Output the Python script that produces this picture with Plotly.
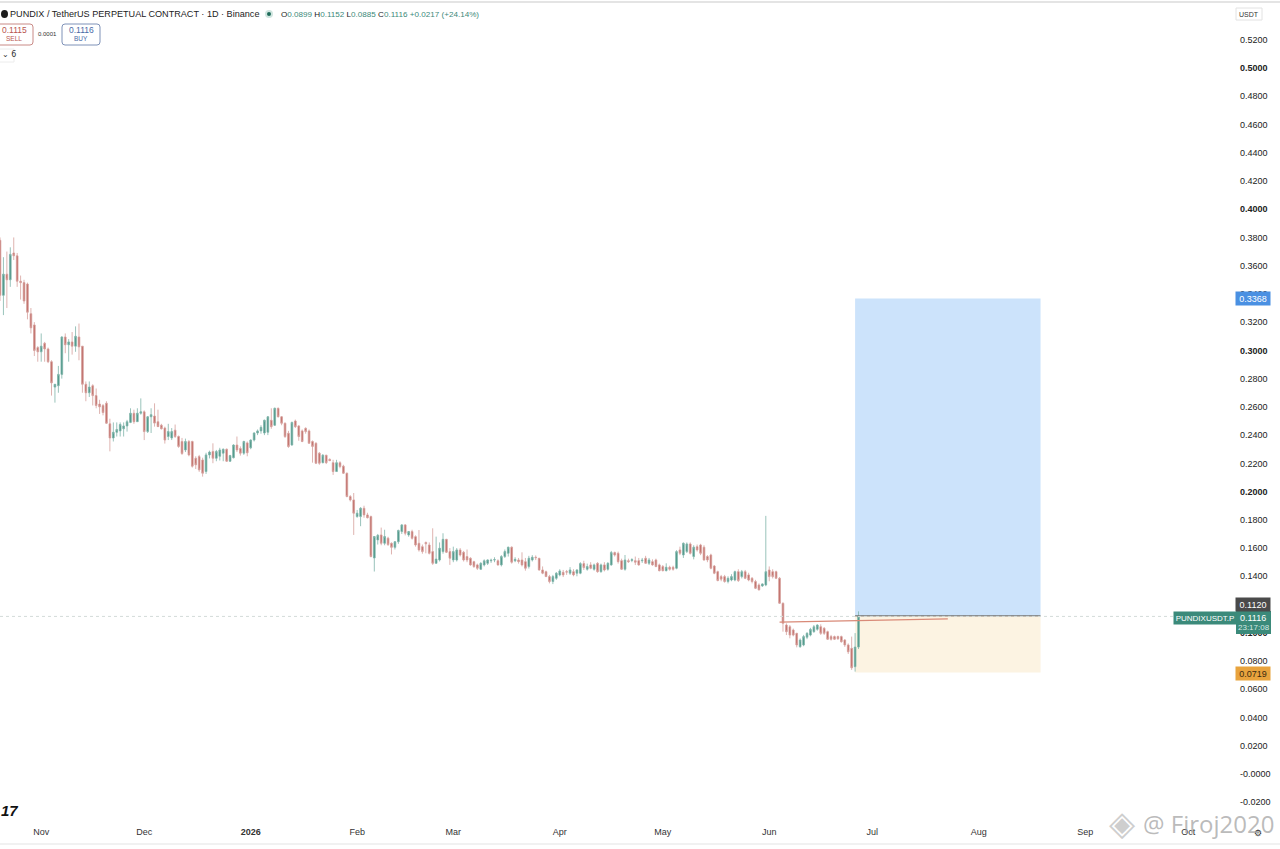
import pandas as pd
import plotly.graph_objects as go

# daily candles, first one is 2025-10-20
opens = [
    .378, .339, .354, .350, .369, .367, .349, .348, .347, .326,
    .318, .302, .299, .305, .301, .292, .274, .275, .283, .3095,
    .304, .306, .303, .3095, .303, .276, .270, .275, .268, .262,
    .261, .2626, .248, .238, .242, .243, .2445, .2465, .249, .2555,
    .2495, .2555, .2565, .2425, .2530, .2535, .2495, .2470, .2450, .2390,
    .2380, .2435, .2390, .2355, .2295, .2355, .2355, .2236, .2248, .2224,
    .2142, .2260, .2284, .2236, .2250, .2272, .2300, .2215, .2240, .2330,
    .2305, .2272, .2345, .2310, .2365, .2415, .2430, .2415, .2420, .2505,
    .2470, .2590, .2530, .2484, .2413, .2330, .2500, .2465, .2430, .2448,
    .2430, .2355, .2342, .2272, .2205, .2258, .2228, .2205, .2142, .2205,
    .2180, .2130, .1965, .1941, .1823, .1823, .1882, .1835, .1823, .1530,
    .1658, .1693, .1634, .1670, .1634, .1605, .1645, .1717, .1764, .1693,
    .1717, .1681, .1634, .1610, .1640, .1622, .1575, .1492, .1516, .1575,
    .1662, .1575, .1516, .1516, .1587, .1570, .1540, .1528, .1504, .1481,
    .1450, .1481, .1492, .1510, .1516, .1510, .1481, .1540, .1563, .1606,
    .1510, .1516, .1516, .1504, .1469, .1516, .1535, .1528, .1445, .1433,
    .1398, .1363, .1386, .1410, .1428, .1433, .1422, .1433, .1422, .1422,
    .1490, .1450, .1481, .1450, .1492, .1433, .1481, .1450, .1481, .1568,
    .1563, .1511, .1450, .1511, .1512, .1511, .1511, .1510, .1528, .1492,
    .1504, .1516, .1481, .1469, .1440, .1464, .1464, .1457, .1587, .1551,
    .1575, .1629, .1540, .1610, .1622, .1606, .1540, .1551, .1473, .1433,
    .1398, .1398, .1363, .1374, .1374, .1433, .1398, .1433, .1410, .1386,
    .1363, .1339, .1332, .1339, .1445, .1433, .1433, .1386, .1209, .1055,
    .1043, .1020, .0996, .0901, .0914, .0968, .0984, .1008, .1025, .1043,
    .1032, .1008, .0973, .0973, .0973, .0973, .0949, .0914, .0890, .0760,
    .0899,
]
highs = [
    .380, .366, .370, .373, .380, .369, .353, .350, .348, .330,
    .320, .303, .312, .306, .302, .293, .276, .289, .310, .312,
    .308, .313, .317, .319, .303, .278, .278, .276, .273, .265,
    .262, .264, .2516, .249, .249, .249, .249, .2508, .259, .258,
    .259, .266, .2575, .2535, .2590, .2625, .2580, .2480, .2460, .2480,
    .2450, .2475, .2397, .2380, .2375, .2365, .2360, .2250, .2260, .2240,
    .2275, .2290, .2342, .2295, .2310, .2305, .2305, .2260, .2335, .2390,
    .2320, .2360, .2355, .2370, .2420, .2440, .2470, .2510, .2535, .2590,
    .2595, .2595, .2535, .2490, .2430, .2495, .2510, .2470, .2440, .2455,
    .2440, .2362, .2350, .2280, .2265, .2260, .2235, .2225, .2225, .2215,
    .2190, .2135, .1975, .1990, .1870, .1890, .1900, .1850, .1830, .1685,
    .1700, .1745, .1730, .1680, .1640, .1650, .1730, .1770, .1770, .1720,
    .1730, .1690, .1728, .1625, .1646, .1640, .1740, .1681, .1640, .1705,
    .1665, .1600, .1610, .1600, .1600, .1580, .1590, .1535, .1510, .1490,
    .1500, .1520, .1520, .1525, .1535, .1520, .1550, .1590, .1610, .1612,
    .1535, .1530, .1570, .1530, .1545, .1550, .1548, .1530, .1470, .1440,
    .1410, .1410, .1430, .1450, .1445, .1445, .1465, .1450, .1450, .1500,
    .1510, .1490, .1500, .1490, .1500, .1490, .1500, .1500, .1580, .1575,
    .1575, .1525, .1551, .1525, .1528, .1540, .1530, .1530, .1545, .1530,
    .1520, .1525, .1490, .1480, .1492, .1475, .1475, .1585, .1610, .1640,
    .1640, .1640, .1620, .1625, .1630, .1620, .1550, .1560, .1480, .1440,
    .1410, .1410, .1400, .1415, .1440, .1450, .1445, .1445, .1425, .1395,
    .1375, .1350, .1350, .1828, .1470, .1450, .1440, .1395, .1215, .1067,
    .1055, .1030, .1000, .0960, .0985, .1005, .1035, .1055, .1060, .1060,
    .1040, .1015, .0985, .0980, .0980, .0980, .0955, .0925, .0973, .0998,
    .1152,
]
lows = [
    .335, .325, .330, .345, .364, .345, .336, .333, .322, .312,
    .296, .292, .292, .292, .291, .268, .263, .270, .280, .298,
    .292, .297, .299, .293, .270, .264, .267, .261, .259, .255,
    .254, .248, .2285, .2355, .239, .239, .239, .2425, .2485, .248,
    .2495, .2545, .2365, .2415, .2415, .2460, .2460, .2440, .2340, .2365,
    .2365, .2380, .2310, .2260, .2280, .2250, .2170, .2160, .2140, .2106,
    .2125, .2235, .2201, .2215, .2220, .2215, .2210, .2210, .2235, .2280,
    .2255, .2260, .2250, .2300, .2355, .2400, .2410, .2400, .2400, .2445,
    .2465, .2525, .2470, .2380, .2310, .2325, .2450, .2360, .2350, .2410,
    .2340, .2205, .2195, .2190, .2200, .2195, .2215, .2118, .2140, .2165,
    .2125, .1960, .1930, .1693, .1815, .1755, .1815, .1810, .1535, .1434,
    .1625, .1620, .1620, .1615, .1555, .1590, .1630, .1700, .1690, .1680,
    .1660, .1610, .1575, .1560, .1563, .1555, .1481, .1490, .1505, .1560,
    .1565, .1481, .1500, .1505, .1540, .1505, .1500, .1475, .1460, .1445,
    .1445, .1470, .1480, .1495, .1500, .1475, .1470, .1530, .1540, .1490,
    .1500, .1490, .1470, .1440, .1455, .1505, .1515, .1440, .1415, .1395,
    .1350, .1345, .1375, .1400, .1395, .1410, .1410, .1400, .1400, .1415,
    .1445, .1440, .1450, .1440, .1425, .1425, .1435, .1440, .1475, .1540,
    .1490, .1445, .1440, .1495, .1500, .1480, .1475, .1495, .1490, .1480,
    .1475, .1465, .1435, .1435, .1435, .1440, .1440, .1450, .1550, .1530,
    .1565, .1555, .1520, .1575, .1550, .1510, .1500, .1450, .1415, .1365,
    .1365, .1355, .1350, .1365, .1365, .1360, .1385, .1380, .1365, .1350,
    .1310, .1300, .1325, .1330, .1365, .1385, .1380, .1205, .1008, .0984,
    .0961, .0975, .0897, .0895, .0905, .0955, .0975, .1000, .1015, .0985,
    .0985, .0950, .0945, .0950, .0950, .0930, .0900, .0850, .0737, .0725,
    .0885,
]
closes = [
    .339, .354, .350, .368, .367, .349, .348, .335, .327, .316,
    .300, .299, .303, .301, .292, .277, .276, .283, .3095, .304,
    .306, .303, .310, .3025, .276, .270, .274, .268, .261, .260,
    .256, .2484, .238, .242, .244, .2475, .2465, .2495, .2555, .2495,
    .2555, .2565, .2425, .2530, .2545, .2485, .2460, .2445, .2365, .2425,
    .2425, .2390, .2320, .2270, .2355, .2260, .2180, .2190, .2154, .2130,
    .2260, .2280, .2236, .2284, .2295, .2300, .2215, .2255, .2330, .2295,
    .2272, .2355, .2275, .2365, .2415, .2430, .2455, .2505, .2530, .2460,
    .2590, .2530, .2484, .2390, .2319, .2490, .2460, .2390, .2355, .2425,
    .2342, .2320, .2201, .2201, .2258, .2205, .2220, .2142, .2205, .2177,
    .2130, .1965, .1941, .1847, .1847, .1882, .1835, .1815, .1540, .1682,
    .1690, .1634, .1682, .1625, .1605, .1645, .1725, .1764, .1705, .1717,
    .1669, .1622, .1587, .1575, .1630, .1563, .1492, .1522, .1599, .1662,
    .1570, .1528, .1575, .1587, .1551, .1516, .1516, .1481, .1469, .1457,
    .1492, .1510, .1516, .1514, .1518, .1481, .1540, .1575, .1606, .1500,
    .1520, .1504, .1481, .1457, .1528, .1535, .1532, .1445, .1422, .1398,
    .1363, .1398, .1422, .1438, .1410, .1430, .1445, .1410, .1445, .1490,
    .1462, .1469, .1457, .1481, .1433, .1481, .1445, .1492, .1568, .1551,
    .1504, .1450, .1516, .1504, .1518, .1500, .1481, .1514, .1492, .1516,
    .1481, .1469, .1440, .1440, .1464, .1450, .1450, .1575, .1563, .1634,
    .1629, .1563, .1606, .1587, .1563, .1516, .1516, .1457, .1422, .1370,
    .1380, .1363, .1386, .1398, .1433, .1370, .1433, .1386, .1374, .1363,
    .1315, .1304, .1346, .1433, .1398, .1398, .1386, .1209, .1067, .1008,
    .0984, .0984, .0914, .0949, .0973, .0996, .1024, .1043, .1055, .0996,
    .0996, .0954, .0954, .0954, .0958, .0937, .0914, .0866, .0752, .0899,
    .1116,
]
dates = pd.date_range("2025-10-20", periods=len(closes), freq="D")

month_ticks = ["2025-11-01", "2025-12-01", "2026-01-01", "2026-02-01", "2026-03-01", "2026-04-01",
               "2026-05-01", "2026-06-01", "2026-07-01", "2026-08-01", "2026-09-01", "2026-10-01"]
month_labels = ["Nov", "Dec", "<b>2026</b>", "Feb", "Mar", "Apr", "May", "Jun", "Jul", "Aug", "Sep", "Oct"]

price_ticks = [-.02, 0, .02, .04, .06, .08, .10, .12, .14, .16, .18, .20, .22, .24, .26, .28, .30,
               .32, .34, .36, .38, .40, .42, .44, .46, .48, .50, .52]
price_labels = ["-0.0200", "-0.0000", "0.0200", "0.0400", "0.0600", "0.0800", "<b>0.1000</b>", "0.1200",
                "0.1400", "0.1600", "0.1800", "<b>0.2000</b>", "0.2200", "0.2400", "0.2600", "0.2800",
                "<b>0.3000</b>", "0.3200", "0.3400", "0.3600", "0.3800", "<b>0.4000</b>", "0.4200",
                "0.4400", "0.4600", "0.4800", "<b>0.5000</b>", "0.5200"]

target = 0.3368
entry = 0.1120
stop = 0.0719
last_price = 0.1116
box_start, box_end = "2026-06-26", "2026-08-19"
ray_start, ray_end = "2026-06-04", "2026-07-23"
ray_prices = [0.1076, 0.1098]

W, H = 1280, 849
PLOT_R, PLOT_T, PLOT_B = 1238, 3, 821
FONT = "Liberation Sans"


def px(x):
    return x / PLOT_R


def py(y):
    return (PLOT_B - y) / (PLOT_B - PLOT_T)


def label(text, x, y, size=9, color="#222222", anchor="center", **kw):
    return dict(text=text, xref="paper", yref="paper", x=px(x), y=py(y), xanchor=anchor, yanchor="middle",
                showarrow=False, font=dict(family=kw.pop("family", FONT), size=size, color=color),
                borderpad=0, **kw)


def tag(text, x0, x1, y0, y1, bg, color="#ffffff", size=9):
    return label(text, (x0 + x1) / 2, (y0 + y1) / 2, size=size, color=color, bgcolor=bg,
                 width=x1 - x0, height=y1 - y0)


def paper_rect(x0, x1, y0, y1, fill, line=None):
    return dict(type="rect", xref="paper", yref="paper", x0=px(x0), x1=px(x1), y0=py(y1), y1=py(y0),
                fillcolor=fill, line=dict(color=line or fill, width=1 if line else 0), layer="above")


def round_box(x0, x1, y0, y1, color):
    a, b, c, d = px(x0), px(x1), py(y0), py(y1)
    rx, ry = px(3), 3 / (PLOT_B - PLOT_T)
    path = (f"M {a + rx} {c} L {b - rx} {c} Q {b} {c} {b} {c - ry} L {b} {d + ry} Q {b} {d} {b - rx} {d} "
            f"L {a + rx} {d} Q {a} {d} {a} {d + ry} L {a} {c - ry} Q {a} {c} {a + rx} {c} Z")
    return dict(type="path", xref="paper", yref="paper", path=path, line=dict(color=color, width=1),
                fillcolor="#ffffff", layer="above")


fig = go.Figure()
fig.add_trace(go.Candlestick(
    x=dates, open=opens, high=highs, low=lows, close=closes,
    increasing=dict(line=dict(color="#7fb4a9", width=0.8), fillcolor="#4a9586"),
    decreasing=dict(line=dict(color="#d6a09c", width=0.8), fillcolor="#bf6a64"),
    whiskerwidth=0, showlegend=False,
))

shapes = [
    dict(type="rect", x0=box_start, x1=box_end, y0=entry, y1=target, fillcolor="#cce3fb", line_width=0, layer="below"),
    dict(type="rect", x0=box_start, x1=box_end, y0=stop, y1=entry, fillcolor="#fcf3e2", line_width=0, layer="below"),
    dict(type="line", x0=box_start, x1=box_end, y0=entry, y1=entry, line=dict(color="#5a5a5a", width=1)),
    dict(type="line", x0=ray_start, x1=ray_end, y0=ray_prices[0], y1=ray_prices[1], line=dict(color="#d98a78", width=1.2)),
    dict(type="line", xref="paper", x0=0, x1=px(1174), y0=last_price, y1=last_price,
         line=dict(color="#d3dbd9", width=1, dash="dot")),
    paper_rect(0, W, 1, 3, "#e4e4e4"),
    paper_rect(0, W, 843, 845, "#f1f1f1"),
    round_box(-3, 33, 24, 45, "#c98a86"),
    round_box(62, 100, 24, 45, "#7f92b8"),
    paper_rect(-1, 14, 49, 62, "#ffffff", "#ececec"),
    paper_rect(1236, 1262, 8, 20, "#ffffff", "#e2e2e2"),
    paper_rect(1236, 1271, 611, 634, "#3b8a7a"),
    dict(type="circle", xref="paper", yref="paper", x0=px(1), x1=px(8), y0=py(18), y1=py(10),
         fillcolor="#1c1c1c", line_width=0, layer="above"),
    dict(type="circle", xref="paper", yref="paper", x0=px(266), x1=px(272), y0=py(17), y1=py(11),
         fillcolor="#1f6b5a", line=dict(color="#cfe5df", width=2), layer="above"),
]

annotations = [
    label("PUNDIX / TetherUS PERPETUAL CONTRACT · 1D · Binance", 9, 14, size=9.1, anchor="left"),
    label("<span style='color:#222222'>O</span>0.0899 <span style='color:#222222'>H</span>0.1152 "
          "<span style='color:#222222'>L</span>0.0885 <span style='color:#222222'>C</span>0.1116 +0.0217 (+24.14%)",
          280, 14, size=8.1, color="#3d8a7a", anchor="left"),
    label("0.1115", 14, 30, size=8.5, color="#b8554f"),
    label("SELL", 14, 39, size=6.5, color="#b8554f"),
    label("0.0001", 47, 34, size=6, color="#333333"),
    label("0.1116", 81, 30, size=8.5, color="#4a6aa5"),
    label("BUY", 81, 39, size=6.5, color="#4a6aa5"),
    label("⌄ 6", 1, 55, size=8, color="#333333", anchor="left", family="DejaVu Sans"),
    label("USDT", 1249, 14, size=7, color="#333333"),
    tag("0.3368", 1236, 1270, 292, 305, "#4a90e2"),
    tag("0.1120", 1236, 1270, 598, 611, "#4a4a4a"),
    tag("PUNDIXUSDT.P", 1174, 1236, 612, 624, "#3b8a7a", size=8),
    label("0.1116", 1253, 618, color="#ffffff"),
    label("23:17:08", 1253.5, 627, size=8, color="#d5e8e3"),
    tag("0.0719", 1236, 1270, 667, 680, "#e8a33d", color="#3a2a10"),
    label("<b><i>17</i></b>", 0, 810, size=15, color="#111111", anchor="left"),
    label("⚙", 1258, 833, size=9, color="#333333", family="DejaVu Sans"),
    label("◈", 1122, 823, size=34, color="rgba(185,185,185,0.7)", family="DejaVu Sans"),
    label("@ Firoj2020", 1142, 823, size=24, color="rgba(165,165,165,0.75)", anchor="left", family="Open Sans"),
]

fig.update_layout(
    width=W, height=H,
    margin=dict(l=0, r=W - PLOT_R, t=PLOT_T, b=H - PLOT_B, pad=0),
    plot_bgcolor="#ffffff", paper_bgcolor="#ffffff",
    font=dict(family=FONT, size=9, color="#222222"),
    shapes=shapes, annotations=annotations, showlegend=False,
)
fig.update_xaxes(
    range=["2025-10-20", "2026-10-15 12:00"], rangeslider_visible=False, showgrid=False, zeroline=False,
    showline=False, ticks="", tickmode="array", tickvals=month_ticks, ticktext=month_labels,
    tickfont=dict(size=9, color="#333333"), ticklabelstandoff=4,
)
fig.update_yaxes(
    range=[-0.03329, 0.54603], side="right", showgrid=False, zeroline=False, showline=False, ticks="",
    tickmode="array", tickvals=price_ticks, ticktext=price_labels, tickfont=dict(size=9, color="#222222"),
    ticklabelstandoff=1,
)

fig.write_html("out.html", config=dict(displayModeBar=False),
               post_script="document.body.style.margin='0';document.body.style.overflow='hidden';")
